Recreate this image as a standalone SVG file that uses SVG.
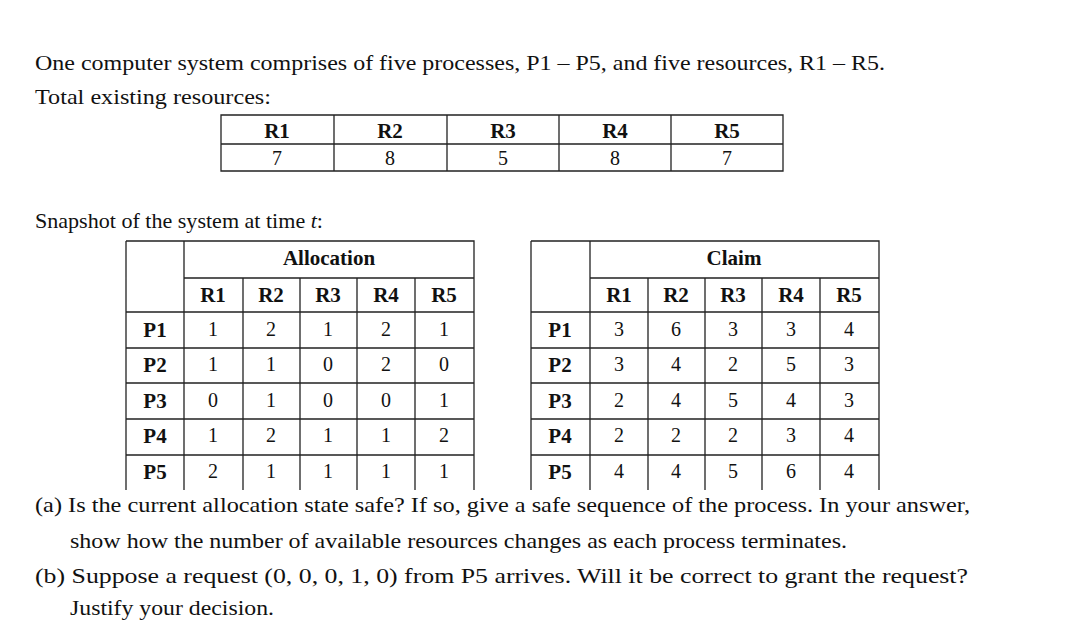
<svg xmlns="http://www.w3.org/2000/svg" width="1065" height="633" viewBox="0 0 1065 633">
<style>
text{font-family:'Times New Roman','Liberation Serif',Tinos,serif;fill:#111}
.p{font-size:22px}
.h{font-size:21px;font-weight:bold;text-anchor:middle}
.n{font-size:20px;text-anchor:middle}
.l{stroke:#222;stroke-width:1.3;fill:none}
</style>
<rect width="1065" height="633" fill="#fff"/>
<g id="text">
<text class="p" x="35" y="70" textLength="850" lengthAdjust="spacingAndGlyphs">One computer system comprises of five processes, P1 – P5, and five resources, R1 – R5.</text>
<text class="p" x="35" y="104" textLength="236" lengthAdjust="spacingAndGlyphs">Total existing resources:</text>
<text class="p" x="35" y="228" textLength="288" lengthAdjust="spacingAndGlyphs">Snapshot of the system at time <tspan font-style="italic">t</tspan>:</text>
<text class="p" x="35" y="512" textLength="935" lengthAdjust="spacingAndGlyphs">(a) Is the current allocation state safe? If so, give a safe sequence of the process. In your answer,</text>
<text class="p" x="70" y="548" textLength="777" lengthAdjust="spacingAndGlyphs">show how the number of available resources changes as each process terminates.</text>
<text class="p" x="35" y="583" textLength="933" lengthAdjust="spacingAndGlyphs">(b) Suppose a request (0, 0, 0, 1, 0) from P5 arrives. Will it be correct to grant the request?</text>
<text class="p" x="70" y="615" textLength="204" lengthAdjust="spacingAndGlyphs">Justify your decision.</text>
</g>
<g id="total">
<path class="l" d="M221 115H783V171H221ZM221 144H783M334 115V171M447 115V171M559 115V171M671 115V171"/>
<text class="h" x="277" y="138">R1</text><text class="h" x="390" y="138">R2</text><text class="h" x="503" y="138">R3</text><text class="h" x="615" y="138">R4</text><text class="h" x="727" y="138">R5</text>
<text class="n" x="277" y="165">7</text><text class="n" x="390" y="165">8</text><text class="n" x="503" y="165">5</text><text class="n" x="615" y="165">8</text><text class="n" x="727" y="165">7</text>
</g>
<g id="allocation">
<path class="l" d="M126 241H474V490M126 241V490M184 241V490M184 278H474M126 312H474M126 348H474M126 383H474M126 419H474M126 455H474M243 278V490M300 278V490M357 278V490M415 278V490"/>
<text class="h" x="329" y="265">Allocation</text>
<text class="h" x="213" y="302">R1</text><text class="h" x="271" y="302">R2</text><text class="h" x="328" y="302">R3</text><text class="h" x="386" y="302">R4</text><text class="h" x="444" y="302">R5</text>
<text class="h" x="155" y="337">P1</text><text class="h" x="155" y="372">P2</text><text class="h" x="155" y="408">P3</text><text class="h" x="155" y="443">P4</text><text class="h" x="155" y="479">P5</text>
<text class="n" x="213" y="336">1</text><text class="n" x="271" y="336">2</text><text class="n" x="328" y="336">1</text><text class="n" x="386" y="336">2</text><text class="n" x="444" y="336">1</text>
<text class="n" x="213" y="371">1</text><text class="n" x="271" y="371">1</text><text class="n" x="328" y="371">0</text><text class="n" x="386" y="371">2</text><text class="n" x="444" y="371">0</text>
<text class="n" x="213" y="407">0</text><text class="n" x="271" y="407">1</text><text class="n" x="328" y="407">0</text><text class="n" x="386" y="407">0</text><text class="n" x="444" y="407">1</text>
<text class="n" x="213" y="442">1</text><text class="n" x="271" y="442">2</text><text class="n" x="328" y="442">1</text><text class="n" x="386" y="442">1</text><text class="n" x="444" y="442">2</text>
<text class="n" x="213" y="478">2</text><text class="n" x="271" y="478">1</text><text class="n" x="328" y="478">1</text><text class="n" x="386" y="478">1</text><text class="n" x="444" y="478">1</text>
</g>
<g id="claim">
<path class="l" d="M531 241H879V490M531 241V490M590 241V490M590 278H879M531 312H879M531 348H879M531 383H879M531 419H879M531 455H879M648 278V490M705 278V490M762 278V490M820 278V490"/>
<text class="h" x="734" y="265">Claim</text>
<text class="h" x="619" y="302">R1</text><text class="h" x="676" y="302">R2</text><text class="h" x="733" y="302">R3</text><text class="h" x="791" y="302">R4</text><text class="h" x="849" y="302">R5</text>
<text class="h" x="560" y="337">P1</text><text class="h" x="560" y="372">P2</text><text class="h" x="560" y="408">P3</text><text class="h" x="560" y="443">P4</text><text class="h" x="560" y="479">P5</text>
<text class="n" x="619" y="336">3</text><text class="n" x="676" y="336">6</text><text class="n" x="733" y="336">3</text><text class="n" x="791" y="336">3</text><text class="n" x="849" y="336">4</text>
<text class="n" x="619" y="371">3</text><text class="n" x="676" y="371">4</text><text class="n" x="733" y="371">2</text><text class="n" x="791" y="371">5</text><text class="n" x="849" y="371">3</text>
<text class="n" x="619" y="407">2</text><text class="n" x="676" y="407">4</text><text class="n" x="733" y="407">5</text><text class="n" x="791" y="407">4</text><text class="n" x="849" y="407">3</text>
<text class="n" x="619" y="442">2</text><text class="n" x="676" y="442">2</text><text class="n" x="733" y="442">2</text><text class="n" x="791" y="442">3</text><text class="n" x="849" y="442">4</text>
<text class="n" x="619" y="478">4</text><text class="n" x="676" y="478">4</text><text class="n" x="733" y="478">5</text><text class="n" x="791" y="478">6</text><text class="n" x="849" y="478">4</text>
</g>
</svg>
